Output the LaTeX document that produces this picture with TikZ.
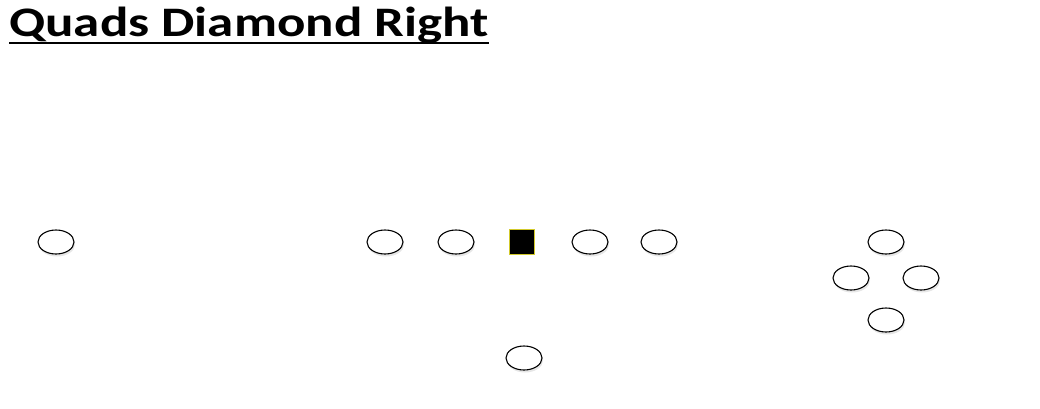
\documentclass[tikz,border=0pt]{standalone}
\usepackage{fontspec}
\setmainfont{Carlito}
\usetikzlibrary{shadows,shapes.geometric}
\tikzset{
  player/.style={draw, ellipse, fill=white, line width=1.1pt, minimum width=36pt, minimum height=24pt, inner sep=0pt,
    drop shadow={shadow xshift=1pt, shadow yshift=-2.5pt, opacity=0.2}},
  center/.style={draw=yellow!80!black, fill=black, line width=1.2pt, minimum size=25pt, inner sep=0pt}
}
\begin{document}
\begin{tikzpicture}[x=1pt, y=-1pt]
  \useasboundingbox (0,0) rectangle (1040,409);
  \node [anchor=base west, inner sep=0pt, xscale=1.26, font=\fontsize{42}{44}\selectfont\bfseries] (title) at (9,37) {Quads Diamond Right};
  \draw [line width=2.2pt] ([yshift=-6pt]title.base west) -- ([yshift=-6pt]title.base east);
  \node [player] (wr) at (56,242) {};
  \node [player] (lt) at (385,242) {};
  \node [player] (lg) at (456,242) {};
  \node [center] (c) at (522,242) {};
  \node [player] (rg) at (590,242) {};
  \node [player] (rt) at (659,242) {};
  \node [player] (qb) at (524,358) {};
  \node [player] (dtop) at (886,242) {};
  \node [player] (dleft) at (851,278) {};
  \node [player] (dright) at (921,278) {};
  \node [player] (dbot) at (886,320) {};
\end{tikzpicture}
\end{document}
